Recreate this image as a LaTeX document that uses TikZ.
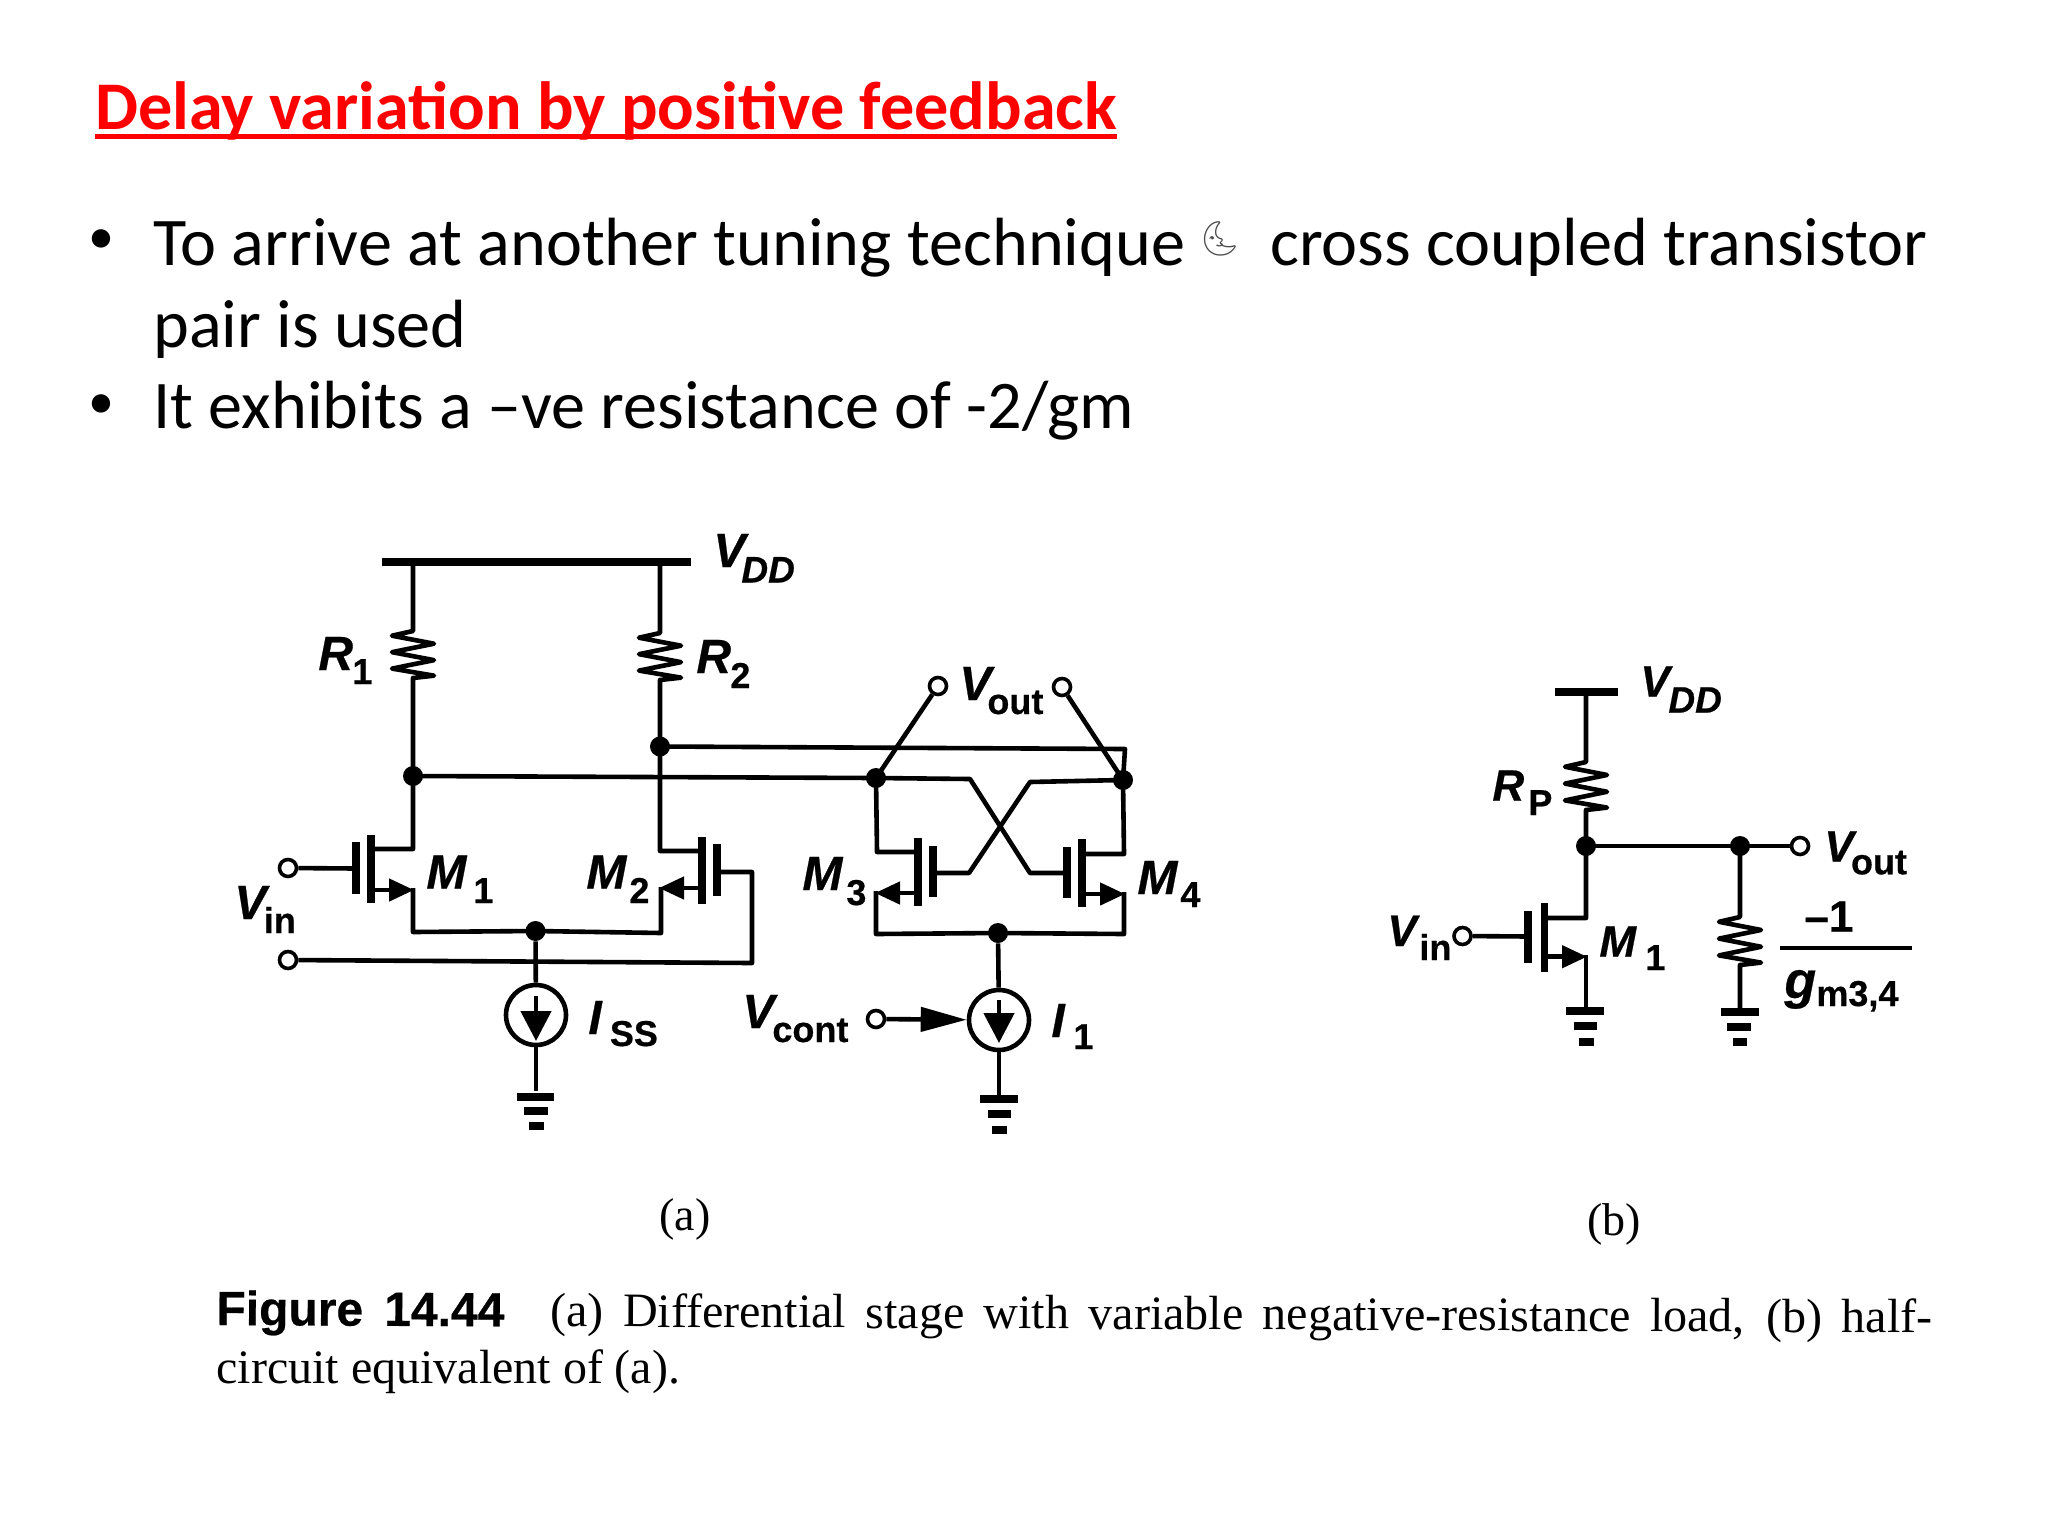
\documentclass[tikz,border=0pt]{standalone}
\usepackage{fontspec}
\usetikzlibrary{arrows.meta}
\newfontfamily\fcarlito{Carlito}
\newfontfamily\fsansb{Liberation Sans}[BoldFont={* Bold},BoldItalicFont={* Bold Italic},BoldFeatures={FakeBold=0.5},BoldItalicFeatures={FakeBold=0.5}]
\newfontfamily\fserif{Liberation Serif}
\newfontfamily\femoji{Noto Emoji}
\newcommand\zigz[3]{-- ({#1-21},{#2+0.10*#3}) -- ({#1+21},{#2+0.27*#3}) -- ({#1-21},{#2+0.45*#3}) -- ({#1+21},{#2+0.62*#3}) -- ({#1-21},{#2+0.80*#3}) -- ({#1+21},{#2+0.95*#3}) -- (#1,{#2+#3})}
% main letter, then its subscript placed #1 pt to the right and #3 pt lower
\newcommand\lsub[4]{\makebox[#1pt][l]{#2}\raisebox{-#3pt}{\fontsize{18}{18}\selectfont\upshape #4}}
\newcommand\lsubi[4]{\makebox[#1pt][l]{#2}\raisebox{-#3pt}{\fontsize{18.5}{18.5}\selectfont #4}}
\tikzset{
  wire/.style={draw=black,line width=2.3pt,line join=round},
  plate/.style={draw=black,line width=3.6pt},
  rail/.style={draw=black,line width=4pt},
  gbar/.style={draw=black,line width=4pt},
  tip/.style={-{Triangle[length=12.5pt,width=11pt]}},
  tipb/.style={-{Triangle[length=23pt,width=12pt]}},
  junction/.style={circle,fill=black,inner sep=0pt,minimum size=10pt},
  terminal/.style={circle,draw=black,fill=white,line width=1.8pt,inner sep=0pt,minimum size=8.5pt},
  source/.style={circle,draw=black,fill=white,line width=2.3pt,inner sep=0pt,minimum size=30pt},
  lab/.style={anchor=base west,inner sep=0pt,font=\fontsize{24}{24}\fsansb\bfseries\itshape},
  labs/.style={anchor=base west,inner sep=0pt,font=\fontsize{22}{22}\fsansb\bfseries\itshape},
  body/.style={anchor=base west,inner sep=0pt,font=\fontsize{34.1}{34.1}\fcarlito},
  bul/.style={anchor=base,inner sep=0pt,font=\fontsize{26}{26}\fcarlito},
  captxt/.style={anchor=base west,inner sep=0pt,font=\fontsize{24}{24}\fserif},
}
\begin{document}
\begin{tikzpicture}[x=0.5pt,y=-0.5pt]
\useasboundingbox (0,0) rectangle (2048,1536);
\fill[white] (0,0) rectangle (2048,1536);
% heading and bullets
\node[anchor=base west,inner sep=0pt,text=red,font=\fontsize{34.1}{34.1}\fcarlito\bfseries] (title) at (95,129) {Delay variation by positive feedback};
\coordinate (ulA) at (95,136); \coordinate (ulB) at (1117,136);
\draw[red,line width=2.5pt] (ulA) -- (ulB);
\node[bul] (b1) at (101,253) {•};
\node[body] (l1) at (153,265) {To arrive at another tuning technique};
\node[anchor=center,inner sep=0pt,text=black!70,font=\fontsize{17}{17}\femoji] (moon) at (1220,239) {\symbol{"1F31C}};
\node[body] (l1b) at (1270,265) {cross coupled transistor};
\node[body] (l2) at (153,347) {pair is used};
\node[bul] (b2) at (101,418) {•};
\node[body] (l3) at (153,428) {It exhibits a –ve resistance of -2/gm};
% ---------- circuit (a): junctions, terminals, sources
\node[junction] (J1) at (413,776) {};
\node[junction] (J2) at (660,746.5) {};
\node[junction] (J3) at (876,778) {};
\node[junction] (J4) at (1123,780) {};
\node[junction] (J5) at (535.5,931) {};
\node[junction] (J6) at (998,933) {};
\node[terminal] (Tp) at (288,868) {};
\node[terminal] (Tm) at (288,960) {};
\node[terminal] (Op) at (938,686) {};
\node[terminal] (Om) at (1062,687) {};
\node[terminal] (Tc) at (876,1019) {};
\node[source] (ISS) at (536,1015) {};
\node[source] (I1) at (999,1020) {};
\coordinate (G1) at (536,1091); \coordinate (G2) at (999,1095);
\coordinate (VA) at (382,561.5); \coordinate (VB) at (691,561.5);
% supply
\draw[rail] (VA) -- (VB);
\draw[wire] (413,561.5) -- (413,631) \zigz{413}{631}{47} -- (J1.center) -- (413,849) -- (371,849);
\draw[wire] (660,561.5) -- (660,633) \zigz{660}{633}{47} -- (J2.center) -- (660,851) -- (702,851);
% M1
\draw[plate] (371,835) -- (371,903);
\draw[plate] (356,842) -- (356,894);
\draw[wire] (Tp) -- (356,868.5);
\draw[wire,tip] (371,890) -- (414,890);
\draw[wire] (413,888) -- (413,932) -- (J5.center) -- (661,933) -- (661,887);
% M2
\draw[plate] (702,837) -- (702,904);
\draw[plate] (717,844) -- (717,896);
\draw[wire,tip] (702,888) -- (659,888);
\draw[wire] (717,872) -- (752,872) -- (752,963) -- (Tm);
% cross-coupled pair
\draw[wire] (J2.center) -- (1125,749) -- (J4.center);
\draw[wire] (J1.center) -- (J3.center) -- (970,779) -- (1030,873) -- (1067,873);
\draw[wire] (J4.center) -- (1030,782) -- (969,873) -- (933,873);
\draw[wire] (Op) -- (J3.center);
\draw[wire] (Om) -- (J4.center);
% M3
\draw[plate] (918,838) -- (918,906);
\draw[plate] (933,846) -- (933,897);
\draw[wire] (J3.center) -- (877,852) -- (918,852);
\draw[wire,tip] (918,893) -- (875,893);
\draw[wire] (876,891) -- (876,934) -- (J6.center);
% M4
\draw[plate] (1082,839) -- (1082,907);
\draw[plate] (1067,847) -- (1067,898);
\draw[wire] (J4.center) -- (1124,854) -- (1082,854);
\draw[wire,tip] (1082,894) -- (1125,894);
\draw[wire] (1124,892) -- (1124,934) -- (J6.center);
% tail currents
\draw[wire] (J5) -- (ISS);
\draw[wire,-{Triangle[length=15pt,width=15pt]}] (536,996) -- (536,1041);
\draw[wire] (ISS) -- (G1);
\draw[gbar] (517,1096.5) -- (554,1096.5);
\draw[gbar] (524,1111) -- (548,1111);
\draw[gbar] (529,1126) -- (544,1126);
\draw[wire] (J6) -- (I1);
\draw[wire,-{Triangle[length=15pt,width=15pt]}] (999,1000) -- (999,1043);
\draw[wire] (I1) -- (G2);
\draw[gbar] (980,1099) -- (1018,1099);
\draw[gbar] (988,1114) -- (1011,1114);
\draw[gbar] (992,1130) -- (1007,1130);
\draw[wire,tipb] (Tc) -- (I1);
% labels (a)
\node[lab] (tR1) at (318,670) {\lsub{17}{R}{7}{1}};
\node[lab] (tR2) at (696,673) {\lsub{17}{R}{7.5}{2}};
\node[lab] (tV) at (713,567) {\lsubi{14}{V}{7.75}{DD}};
\node[lab] (tM1) at (426,888.5) {\lsub{23.5}{M}{7.25}{1}};
\node[lab] (tM2) at (586,888.5) {\lsub{21.5}{M}{7.25}{2}};
\node[lab] (tVi) at (234,919) {\lsub{14.75}{V}{7}{in}};
\node[lab] (tI) at (588,1034) {\lsub{10.75}{I}{6}{SS}};
\node[lab] (tVo) at (959,700) {\lsub{14}{V}{7}{out}};
\node[lab] (tM3) at (802,890) {\lsub{22}{M}{7.5}{3}};
\node[lab] (tM4) at (1137,894) {\lsub{21.5}{M}{6.5}{4}};
\node[lab] (tVc) at (742,1028) {\lsub{15}{V}{7}{cont}};
\node[lab] (tI1) at (1051,1037) {\lsub{11}{I}{6}{1}};
% ---------- circuit (b)
\node[junction] (K1) at (1586,846) {};
\node[junction] (K2) at (1740,846) {};
\node[terminal] (Vo) at (1800,846) {};
\node[terminal] (Vi) at (1462.5,936) {};
\draw[rail] (1555,691.7) -- (1618,691.7);
\draw[wire] (1586,691.7) -- (1586,762) \zigz{1586}{762}{48} -- (K1.center) -- (1586,918) -- (1544.5,918);
\draw[plate] (1544.5,903) -- (1544.5,972);
\draw[plate] (1528,911) -- (1528,963);
\draw[wire] (Vi) -- (1528,936.5);
\draw[wire,tip] (1544.5,956.7) -- (1587,956.7);
\draw[wire] (1586,955) -- (1586,1007);
\draw[gbar] (1566,1010.7) -- (1604,1010.7);
\draw[gbar] (1573.5,1026) -- (1597,1026);
\draw[gbar] (1579,1041.7) -- (1593.5,1041.7);
\draw[wire] (K1.center) -- (K2.center) -- (Vo);
\draw[wire] (K2.center) -- (1740,917) \zigz{1740}{917}{48} -- (1740,1008);
\draw[gbar] (1721,1011.7) -- (1759,1011.7);
\draw[gbar] (1727,1026.7) -- (1751,1026.7);
\draw[gbar] (1733,1041.7) -- (1747,1041.7);
\draw[line width=2pt] (1780,948.3) -- (1912,948.3);
\node[labs] (uV) at (1640,696.7) {\lsubi{14}{V}{8}{DD}};
\node[labs] (uR) at (1492,800.7) {\lsub{18}{R}{7.15}{P}};
\node[labs] (uVo) at (1824,861.7) {\lsub{13.3}{V}{6.3}{out}};
\node[labs] (uVi) at (1387,946) {\lsub{16}{V}{7}{in}};
\node[labs] (uM) at (1599,956.7) {\lsub{23}{M}{6.65}{1}};
\node[anchor=base west,inner sep=0pt,font=\fontsize{22}{22}\fsansb\bfseries] (um) at (1804,931.7) {–1};
\node[anchor=base west,inner sep=0pt,font=\fontsize{26}{26}\fsansb\bfseries\itshape] (ug) at (1784,998) {\lsub{16}{g}{4}{m3,4}};
% captions
\node[anchor=base,inner sep=0pt,font=\fontsize{23}{23}\fserif] (ca) at (685,1230) {(a)};
\node[anchor=base,inner sep=0pt,font=\fontsize{23}{23}\fserif] (cb) at (1614,1235) {(b)};
\node[anchor=base west,inner sep=0pt,rotate=-0.27,font=\fontsize{24}{24}\fsansb\bfseries] (fig) at (216,1325) {\makebox[144pt][s]{Figure 14.44}};
\node[captxt,rotate=-0.27] (c1) at (550,1326.5) {\makebox[691pt][s]{(a) Differential stage with variable negative-resistance load, (b) half-}};
\node[captxt] (c2) at (216,1383) {circuit equivalent of (a).};
\end{tikzpicture}
\end{document}
